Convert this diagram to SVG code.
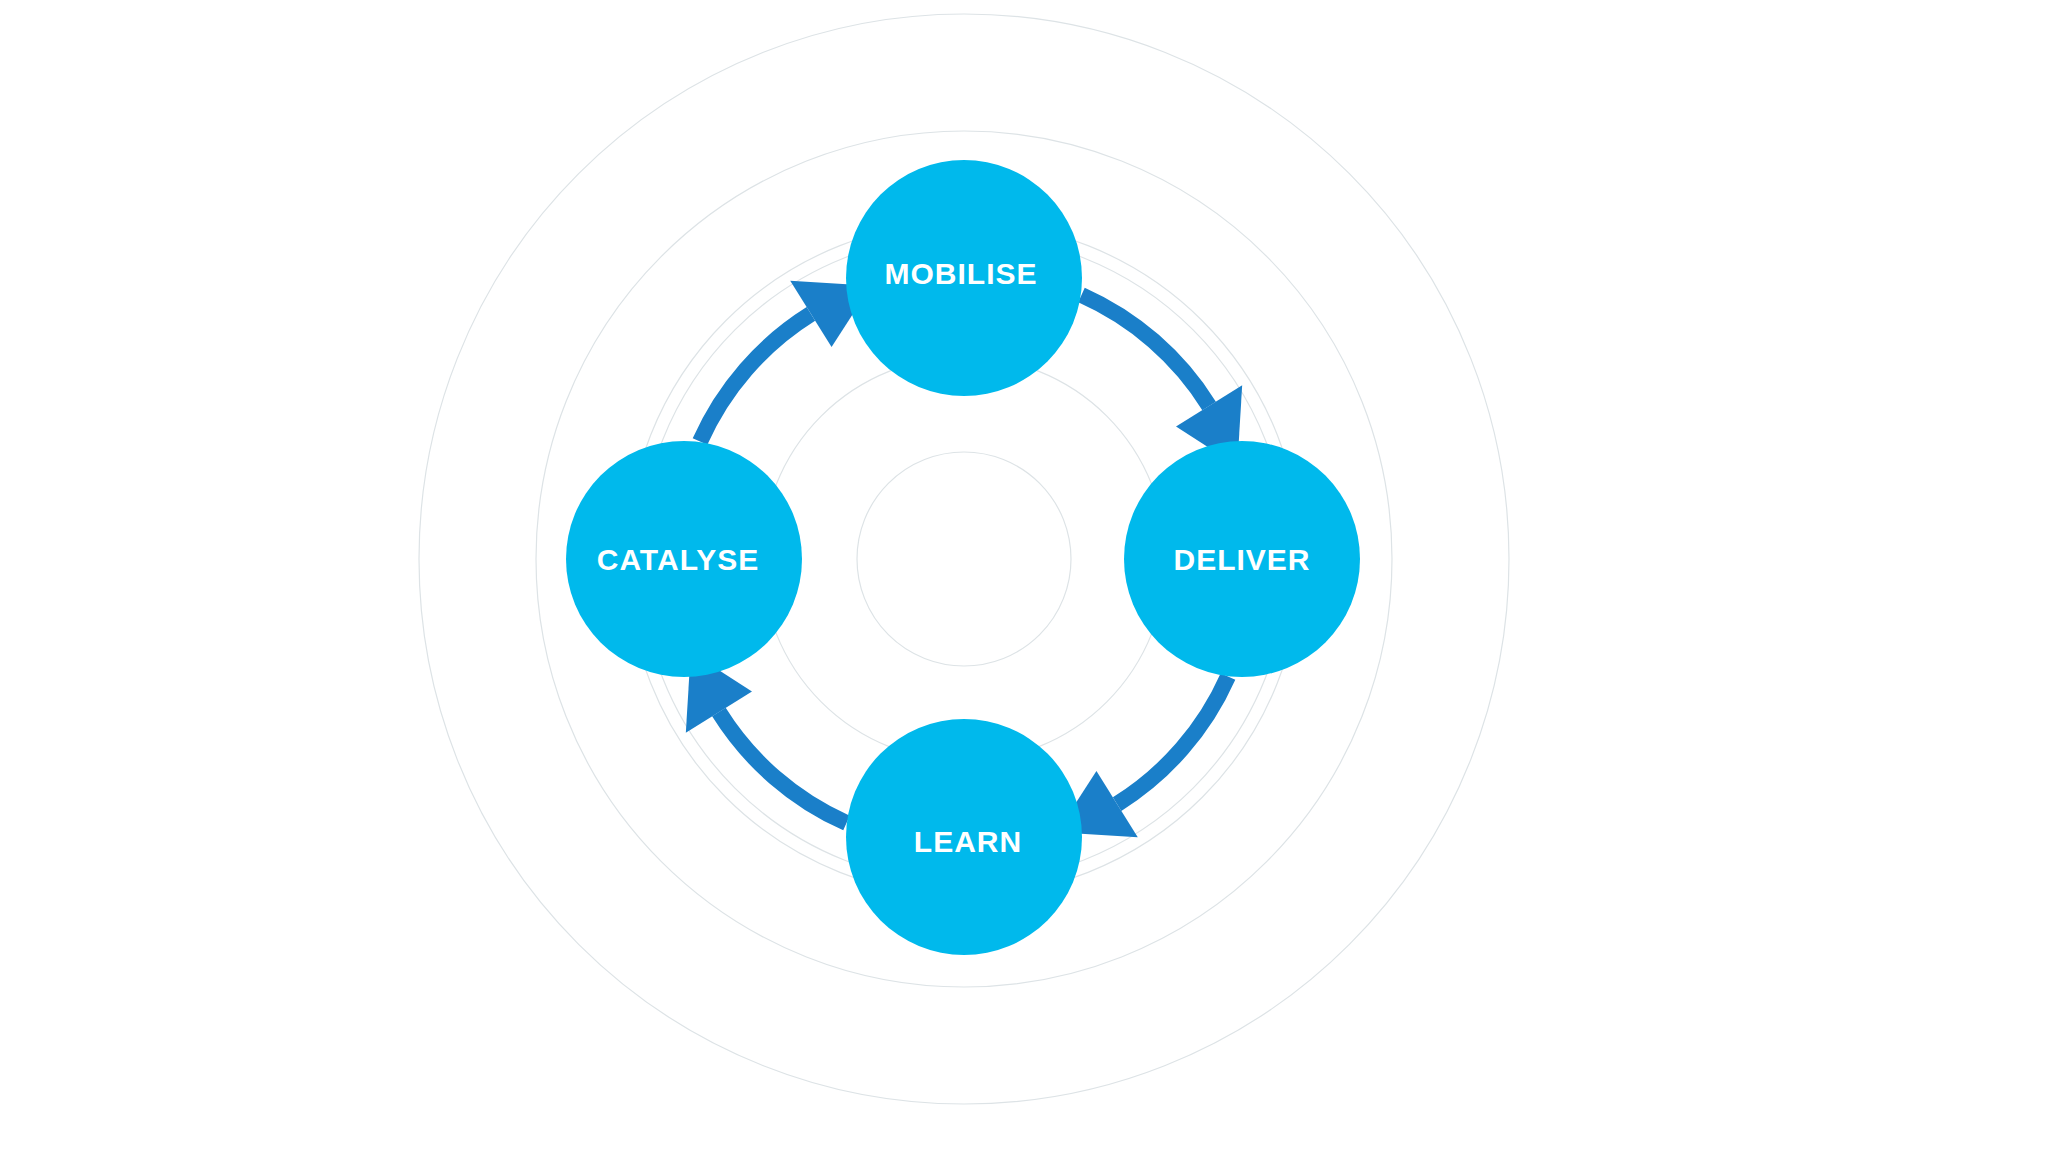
<svg xmlns="http://www.w3.org/2000/svg" width="2048" height="1152" viewBox="0 0 2048 1152">
<style>
.ring{fill:none;stroke:#dde3e6;stroke-width:1.2}
.node{fill:#00b9ec}
.lbl{fill:#fff;font-family:"Liberation Sans",Arial,sans-serif;font-weight:bold;font-size:30px;letter-spacing:1px;text-anchor:middle;dominant-baseline:central}
.arc{fill:none;stroke:#1a7fc9;stroke-width:16;marker-end:url(#ah)}
</style>
<defs>
<marker id="ah" markerUnits="userSpaceOnUse" markerWidth="80" markerHeight="90" viewBox="0 -45 70 90" refX="0" refY="0" orient="auto">
<path d="M0,-39 L66,8 L0,39 z" fill="#1a7fc9"/>
</marker>
</defs>
<rect width="2048" height="1152" fill="#fff"/>
<g id="rings">
<circle class="ring" cx="964" cy="559" r="107"/>
<circle class="ring" cx="964" cy="559" r="202"/>
<circle class="ring" cx="964" cy="559" r="324"/>
<circle class="ring" cx="964" cy="559" r="337"/>
<circle class="ring" cx="964" cy="559" r="428"/>
<circle class="ring" cx="964" cy="559" r="545" stroke="#f1f3f5"/>
</g>
<g id="connectors">
<path class="arc" d="M1081.5,295 A289 289 0 0 1 1209.1,405.9"/>
<path class="arc" d="M1228,676.5 A289 289 0 0 1 1117.1,804.1"/>
<path class="arc" d="M846.5,823 A289 289 0 0 1 718.9,712.1"/>
<path class="arc" d="M700,441.5 A289 289 0 0 1 810.9,313.9"/>
</g>
<g id="mobilise"><circle class="node" cx="964" cy="278" r="118"/><text class="lbl" x="961" y="273">MOBILISE</text></g>
<g id="deliver"><circle class="node" cx="1242" cy="559" r="118"/><text class="lbl" x="1242" y="559">DELIVER</text></g>
<g id="learn"><circle class="node" cx="964" cy="837" r="118"/><text class="lbl" x="968" y="841">LEARN</text></g>
<g id="catalyse"><circle class="node" cx="684" cy="559" r="118"/><text class="lbl" x="678" y="559">CATALYSE</text></g>
</svg>
